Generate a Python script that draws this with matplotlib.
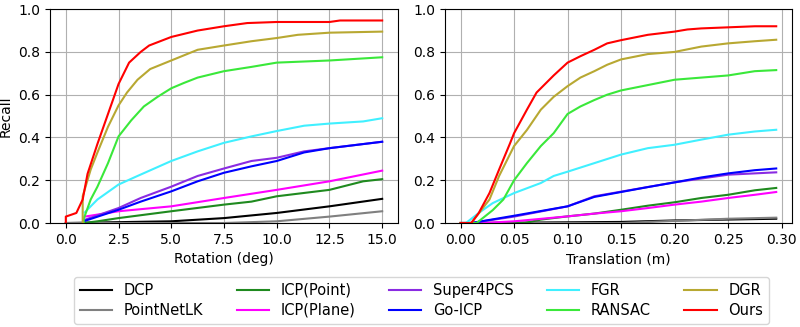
import numpy as np
import matplotlib
matplotlib.use("Agg")
import matplotlib.pyplot as plt

# ---- rotation panel (x in deg, recall) ----
rot = {
    "DCP": ([0, 5.0, 7.5, 10.0, 12.5, 15.0],
            [0, 0.008, 0.023, 0.047, 0.078, 0.113]),
    "PointNetLK": ([0, 7.5, 10.0, 12.5, 15.0],
                   [0, 0.0, 0.008, 0.03, 0.055]),
    "ICP(Point)": ([0.85, 1.5, 2.5, 5.0, 7.5, 8.8, 10.0, 12.5, 14.1, 15.0],
                   [0, 0.008, 0.023, 0.055, 0.086, 0.10, 0.125, 0.155, 0.195, 0.205]),
    "ICP(Plane)": ([0.9, 2.5, 5.0, 7.5, 10.0, 12.5, 15.0],
                   [0.03, 0.055, 0.078, 0.117, 0.155, 0.195, 0.245]),
    "Super4PCS": ([0.9, 2.5, 3.55, 5.0, 6.25, 7.5, 8.8, 10.0, 11.3, 12.5, 15.0],
                  [0.015, 0.07, 0.117, 0.17, 0.22, 0.255, 0.29, 0.305, 0.335, 0.35, 0.38]),
    "Go-ICP": ([0.9, 2.5, 3.55, 5.0, 6.25, 7.5, 8.8, 10.0, 11.3, 12.5, 15.0],
               [0.01, 0.062, 0.10, 0.148, 0.195, 0.235, 0.265, 0.29, 0.33, 0.35, 0.38]),
    "FGR": ([0.9, 1.5, 2.5, 3.4, 5.0, 6.25, 7.5, 8.8, 10.0, 11.3, 12.5, 14.1, 15.0],
            [0.05, 0.11, 0.18, 0.22, 0.29, 0.335, 0.375, 0.405, 0.43, 0.455, 0.465, 0.475, 0.49]),
    "RANSAC": ([0.85, 0.85, 1.18, 1.5, 2.0, 2.5, 3.1, 3.7, 4.35, 5.0, 5.6, 6.25, 7.5, 8.8, 10.0, 12.5, 15.0],
               [0, 0.02, 0.11, 0.17, 0.28, 0.405, 0.48, 0.545, 0.59, 0.63, 0.655, 0.68, 0.71, 0.73, 0.75, 0.76, 0.775]),
    "DGR": ([0.8, 0.8, 1.18, 1.5, 2.0, 2.5, 2.9, 3.4, 4.0, 5.0, 6.25, 7.5, 8.8, 10.0, 11.0, 12.5, 15.0],
            [0, 0.125, 0.25, 0.33, 0.45, 0.55, 0.61, 0.67, 0.72, 0.76, 0.81, 0.83, 0.85, 0.865, 0.88, 0.89, 0.895]),
    "Ours": ([0, 0, 0.5, 0.8, 1.03, 1.5, 2.0, 2.5, 3.0, 3.55, 3.95, 5.0, 6.25, 7.5, 8.6, 10.0, 12.5, 13.0, 15.0],
             [0, 0.03, 0.047, 0.11, 0.23, 0.37, 0.51, 0.65, 0.75, 0.80, 0.83, 0.87, 0.90, 0.92, 0.935, 0.94, 0.94, 0.947, 0.947]),
}

# ---- translation panel (x in m, recall) ----
trans = {
    "DCP": ([0, 0.15, 0.20, 0.295],
            [0, 0.005, 0.012, 0.02]),
    "PointNetLK": ([0, 0.15, 0.20, 0.25, 0.295],
                   [0, 0.0, 0.01, 0.02, 0.025]),
    "ICP(Point)": ([0, 0.06, 0.075, 0.10, 0.125, 0.15, 0.175, 0.20, 0.225, 0.25, 0.275, 0.295],
                   [0, 0.0, 0.016, 0.031, 0.044, 0.062, 0.081, 0.097, 0.117, 0.132, 0.153, 0.164]),
    "ICP(Plane)": ([0, 0.02, 0.05, 0.10, 0.125, 0.15, 0.175, 0.20, 0.225, 0.25, 0.275, 0.295],
                   [0, 0.0, 0.008, 0.031, 0.044, 0.055, 0.07, 0.086, 0.10, 0.117, 0.132, 0.145]),
    "Super4PCS": ([0, 0.01, 0.05, 0.10, 0.125, 0.20, 0.25, 0.295],
                  [0, 0.0, 0.03, 0.078, 0.125, 0.19, 0.226, 0.237]),
    "Go-ICP": ([0, 0.01, 0.05, 0.10, 0.125, 0.15, 0.175, 0.20, 0.225, 0.25, 0.275, 0.295],
               [0, 0.0, 0.034, 0.078, 0.122, 0.145, 0.168, 0.19, 0.213, 0.232, 0.247, 0.255]),
    "FGR": ([0, 0.005, 0.017, 0.030, 0.05, 0.075, 0.087, 0.10, 0.125, 0.15, 0.175, 0.20, 0.225, 0.25, 0.275, 0.295],
            [0, 0.0, 0.047, 0.093, 0.14, 0.187, 0.22, 0.24, 0.28, 0.32, 0.35, 0.366, 0.39, 0.413, 0.428, 0.436]),
    "RANSAC": ([0, 0.015, 0.030, 0.04, 0.05, 0.062, 0.075, 0.087, 0.10, 0.112, 0.125, 0.137, 0.15, 0.175, 0.20, 0.225, 0.25, 0.275, 0.295],
               [0, 0.0, 0.06, 0.11, 0.20, 0.28, 0.36, 0.42, 0.51, 0.545, 0.575, 0.60, 0.62, 0.645, 0.67, 0.68, 0.69, 0.71, 0.715]),
    "DGR": ([0, 0.01, 0.027, 0.036, 0.05, 0.062, 0.075, 0.087, 0.10, 0.112, 0.125, 0.137, 0.15, 0.175, 0.20, 0.225, 0.25, 0.275, 0.295],
            [0, 0.0, 0.11, 0.22, 0.36, 0.435, 0.53, 0.59, 0.64, 0.68, 0.71, 0.74, 0.765, 0.79, 0.80, 0.825, 0.84, 0.85, 0.857]),
    "Ours": ([0, 0.01, 0.017, 0.027, 0.036, 0.046, 0.05, 0.062, 0.071, 0.08, 0.087, 0.10, 0.112, 0.125, 0.137, 0.15, 0.175, 0.20, 0.212, 0.225, 0.25, 0.275, 0.295],
             [0, 0.0, 0.047, 0.14, 0.25, 0.37, 0.42, 0.53, 0.61, 0.655, 0.69, 0.75, 0.78, 0.81, 0.84, 0.855, 0.88, 0.895, 0.905, 0.91, 0.915, 0.92, 0.92]),
}

colors = {
    "DCP": "black",
    "PointNetLK": "gray",
    "ICP(Point)": "#1f8a1f",
    "ICP(Plane)": "magenta",
    "Super4PCS": "blueviolet",
    "Go-ICP": "blue",
    "FGR": "#40f0ff",
    "RANSAC": "#3ae83a",
    "DGR": "#b8a832",
    "Ours": "red",
}

plt.rcParams["font.size"] = 10

fig = plt.figure(figsize=(8.0, 3.27), dpi=100)
ax1 = fig.add_axes([0.0625, 0.318, 0.435, 0.654])
ax2 = fig.add_axes([0.556, 0.318, 0.434, 0.654])

for name, (x, y) in rot.items():
    ax1.plot(x, y, color=colors[name], lw=1.5, label=name)
for name, (x, y) in trans.items():
    ax2.plot(x, y, color=colors[name], lw=1.5)

ax1.set_xlim(-0.75, 15.75)
ax1.set_xticks(np.arange(0, 15.1, 2.5))
ax1.set_xlabel("Rotation (deg)")
ax1.set_ylabel("Recall")

ax2.set_xlim(-0.01475, 0.30975)
ax2.set_xticks(np.arange(0, 0.301, 0.05))
ax2.set_xlabel("Translation (m)")

for ax in (ax1, ax2):
    ax.set_ylim(0, 1.0)
    ax.set_yticks(np.arange(0, 1.01, 0.2))
    ax.grid(True)

handles, labels = ax1.get_legend_handles_labels()
fig.legend(handles, labels, ncol=5, loc="upper center", fontsize=10.5,
           bbox_to_anchor=(0.527, 0.162), handlelength=2.2, columnspacing=2.3,
           labelspacing=0.35, borderaxespad=0.2)

fig.savefig("out.png", dpi=100)
